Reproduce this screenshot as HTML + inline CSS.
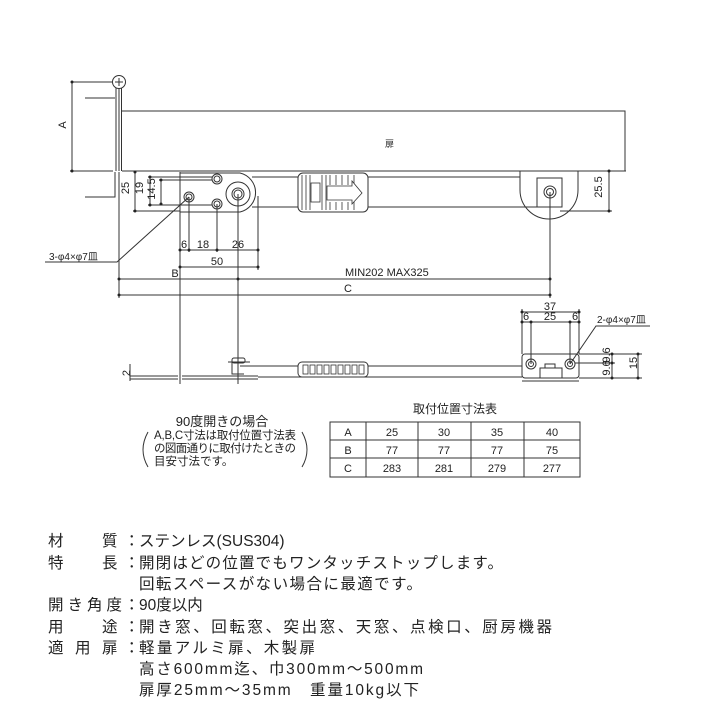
<!DOCTYPE html>
<html><head><meta charset="utf-8"><style>
html,body{margin:0;padding:0;background:#fff}
svg{display:block}
text{font-family:"Liberation Sans","Noto Sans CJK JP",sans-serif;fill:#222}
.n{font-family:"Liberation Sans Narrow","Liberation Sans",sans-serif;font-size:11px}
</style></head><body>
<svg width="720" height="720" viewBox="0 0 720 720" xmlns="http://www.w3.org/2000/svg">
<g stroke="#333" stroke-width="1" fill="none">
<circle cx="119" cy="82" r="6.5"/>
<line x1="115" y1="82" x2="123" y2="82"/><line x1="119" y1="78" x2="119" y2="86"/>
<line x1="116" y1="88" x2="116" y2="171"/><line x1="119" y1="88" x2="119" y2="171"/><line x1="121.5" y1="88" x2="121.5" y2="171"/>
<polyline points="122,111 625,111 625,171 122,171"/>
<line x1="72" y1="82" x2="113" y2="82"/><line x1="72" y1="82" x2="72" y2="171"/><line x1="70" y1="171" x2="113" y2="171"/>
<line x1="85" y1="98" x2="115" y2="98"/>
<polyline points="85,197 115,197 115,172"/>
<line x1="119" y1="172" x2="119" y2="298"/>
<path d="M180,173 H240 A20,20 0 0 1 240,212 H180"/>
<line x1="180" y1="172" x2="180" y2="384"/>
<line x1="258" y1="196" x2="258" y2="270"/>
<circle cx="238" cy="194" r="12"/><circle cx="238" cy="194" r="6"/><circle cx="238" cy="194" r="4"/>
<line x1="238" y1="194" x2="238" y2="384"/>
<circle cx="189" cy="197" r="5"/><circle cx="189" cy="197" r="3"/>
<circle cx="217" cy="179" r="5"/><circle cx="217" cy="179" r="3"/>
<circle cx="217" cy="204" r="5"/><circle cx="217" cy="204" r="3"/>
<line x1="189" y1="197" x2="189" y2="252"/><line x1="217" y1="204" x2="217" y2="252"/>
<line x1="252" y1="177" x2="520" y2="177"/><line x1="252" y1="207" x2="540" y2="207"/>
<rect x="298" y="173" width="70" height="39" rx="5" fill="#fff"/>
<g stroke-width="0.8">
<line x1="302" y1="175" x2="302" y2="210"/><line x1="306" y1="175" x2="306" y2="210"/><line x1="310" y1="175" x2="310" y2="210"/>
<line x1="322" y1="175" x2="322" y2="210"/><line x1="326" y1="175" x2="326" y2="210"/><line x1="330" y1="175" x2="330" y2="185"/><line x1="336" y1="175" x2="336" y2="185"/><line x1="342" y1="175" x2="342" y2="185"/><line x1="348" y1="175" x2="348" y2="185"/><line x1="354" y1="175" x2="354" y2="185"/>
<line x1="330" y1="202" x2="330" y2="210"/><line x1="336" y1="202" x2="336" y2="210"/><line x1="342" y1="202" x2="342" y2="210"/><line x1="348" y1="202" x2="348" y2="210"/><line x1="354" y1="202" x2="354" y2="210"/>
<rect x="311" y="183" width="9" height="19"/>
<path d="M327,186 H352 V181 L362,193 L352,204 V200 H327 Z" fill="#fff"/>
</g>
<path d="M520,171 V190 A21,21 0 0 0 578,190 V171"/>
<rect x="537" y="178" width="25" height="29"/>
<circle cx="550" cy="192" r="6"/><circle cx="550" cy="192" r="3.5"/>
<line x1="550" y1="192" x2="550" y2="298"/>
<line x1="626" y1="171" x2="612" y2="171"/><line x1="609" y1="171" x2="609" y2="211"/><line x1="560" y1="211" x2="612" y2="211"/>
<line x1="135" y1="172" x2="135" y2="211"/><line x1="133" y1="211" x2="180" y2="211"/>
<line x1="150" y1="177" x2="150" y2="205"/><line x1="148" y1="177" x2="212" y2="177"/><line x1="148" y1="205" x2="212" y2="205"/>
<line x1="161" y1="180" x2="161" y2="204"/><line x1="159" y1="180" x2="212" y2="180"/>
<line x1="180" y1="250" x2="258" y2="250"/>
<line x1="180" y1="267" x2="258" y2="267"/>
<line x1="119" y1="279" x2="550" y2="279"/>
<line x1="119" y1="295" x2="550" y2="295"/>
<polyline points="45,262 117,262 189,197"/>
<line x1="130" y1="376" x2="178" y2="376"/><line x1="130" y1="379" x2="178" y2="379"/>
<line x1="182" y1="376" x2="258" y2="376"/><line x1="182" y1="379" x2="258" y2="379"/>
<line x1="130" y1="364" x2="130" y2="381"/>
<line x1="240" y1="366" x2="522" y2="366"/><line x1="258" y1="377" x2="522" y2="377"/>
<path d="M228,362 H250 M232,362 V374 H244"/>
<rect x="232" y="358" width="13" height="5" rx="2"/>
<rect x="298" y="362" width="70" height="15" rx="4" fill="#fff"/>
<g stroke-width="0.8">
<rect x="303" y="365" width="5" height="9"/><rect x="310" y="365" width="5" height="9"/><rect x="317" y="365" width="5" height="9"/><rect x="324" y="365" width="5" height="9"/><rect x="331" y="365" width="5" height="9"/><rect x="338" y="365" width="5" height="9"/><rect x="345" y="365" width="5" height="9"/><rect x="352" y="365" width="5" height="9"/><rect x="359" y="365" width="5" height="9"/>
</g>
<rect x="522" y="354" width="57" height="24" rx="3"/>
<line x1="522" y1="381" x2="579" y2="381"/>
<rect x="540" y="368" width="22" height="10"/><rect x="545" y="364" width="10" height="4"/>
<circle cx="531" cy="364" r="5"/><circle cx="531" cy="364" r="2.5"/>
<circle cx="570" cy="364" r="5"/><circle cx="570" cy="364" r="2.5"/>
<line x1="522" y1="309" x2="522" y2="354"/><line x1="579" y1="309" x2="579" y2="354"/>
<line x1="531" y1="322" x2="531" y2="364"/><line x1="570" y1="322" x2="570" y2="364"/>
<line x1="522" y1="312" x2="579" y2="312"/><line x1="522" y1="322" x2="579" y2="322"/>
<polyline points="650,326 596,326 570,364"/>
<line x1="579" y1="354" x2="642" y2="354"/><line x1="575" y1="363" x2="615" y2="363"/><line x1="579" y1="378" x2="642" y2="378"/>
<line x1="612" y1="354" x2="612" y2="378"/><line x1="638" y1="354" x2="638" y2="378"/>
<path d="M148,432 Q138,450 148,467"/><path d="M302,432 Q312,450 302,467"/>
<rect x="330" y="422" width="250" height="55"/>
<line x1="330" y1="440" x2="580" y2="440"/><line x1="330" y1="458" x2="580" y2="458"/>
<line x1="366" y1="422" x2="366" y2="477"/><line x1="418" y1="422" x2="418" y2="477"/><line x1="471" y1="422" x2="471" y2="477"/><line x1="524" y1="422" x2="524" y2="477"/>
</g>
<g fill="#222">
<circle cx="72" cy="82" r="1.5"/><circle cx="72" cy="171" r="1.5"/><circle cx="135" cy="172" r="1.5"/><circle cx="135" cy="211" r="1.5"/>
<circle cx="150" cy="177" r="1.5"/><circle cx="150" cy="205" r="1.5"/><circle cx="161" cy="180" r="1.5"/><circle cx="161" cy="204" r="1.5"/>
<circle cx="180" cy="250" r="1.5"/><circle cx="189" cy="250" r="1.5"/><circle cx="217" cy="250" r="1.5"/><circle cx="258" cy="250" r="1.5"/>
<circle cx="180" cy="267" r="1.5"/><circle cx="258" cy="267" r="1.5"/><circle cx="119" cy="279" r="1.5"/><circle cx="238" cy="279" r="1.5"/><circle cx="550" cy="279" r="1.5"/>
<circle cx="119" cy="295" r="1.5"/><circle cx="550" cy="295" r="1.5"/><circle cx="609" cy="171" r="1.5"/><circle cx="609" cy="211" r="1.5"/>
<circle cx="522" cy="312" r="1.5"/><circle cx="579" cy="312" r="1.5"/><circle cx="522" cy="322" r="1.5"/><circle cx="531" cy="322" r="1.5"/><circle cx="570" cy="322" r="1.5"/><circle cx="579" cy="322" r="1.5"/>
<circle cx="612" cy="354" r="1.5"/><circle cx="612" cy="363" r="1.5"/><circle cx="612" cy="378" r="1.5"/><circle cx="638" cy="354" r="1.5"/><circle cx="638" cy="378" r="1.5"/>
</g>
<text class="n" x="62" y="129" transform="rotate(-90 62 125)" text-anchor="middle">A</text>
<text x="385" y="147" font-size="9">扉</text>
<text class="n" x="133" y="192" transform="rotate(-90 129 192)" text-anchor="middle" font-size="10">25</text>
<text class="n" x="146" y="191" transform="rotate(-90 143 191)" text-anchor="middle" font-size="10">19</text>
<text class="n" x="158" y="192" transform="rotate(-90 155 192)" text-anchor="middle" font-size="9">14.5</text>
<text class="n" x="605" y="190" transform="rotate(-90 602 190)" text-anchor="middle" font-size="10">25.5</text>
<text class="n" x="184" y="248" text-anchor="middle" font-size="10">6</text>
<text class="n" x="203" y="248" text-anchor="middle" font-size="10">18</text>
<text class="n" x="238" y="248" text-anchor="middle" font-size="10">26</text>
<text class="n" x="217" y="265" text-anchor="middle" font-size="10">50</text>
<text class="n" x="175" y="277" text-anchor="middle">B</text>
<text class="n" x="345" y="276" font-size="10">MIN202  MAX325</text>
<text class="n" x="348" y="292" text-anchor="middle">C</text>
<text x="49" y="260" font-size="10">3-φ4×φ7皿</text>
<text class="n" x="127" y="376" transform="rotate(-90 127 373)" text-anchor="middle" font-size="9">2</text>
<text class="n" x="550" y="310" text-anchor="middle" font-size="10">37</text>
<text class="n" x="526" y="320" text-anchor="middle" font-size="10">6</text>
<text class="n" x="550" y="320" text-anchor="middle" font-size="10">25</text>
<text class="n" x="575" y="320" text-anchor="middle" font-size="10">6</text>
<text x="597" y="323" font-size="10">2-φ4×φ7皿</text>
<text class="n" x="610" y="361" transform="rotate(-90 607 358)" text-anchor="middle" font-size="7">9.6</text>
<text class="n" x="610" y="374" transform="rotate(-90 607 371)" text-anchor="middle" font-size="8">9.6</text>
<text class="n" x="636" y="370" transform="rotate(-90 633 366)" text-anchor="middle" font-size="10">15</text>
<text x="222" y="426" font-size="13" text-anchor="middle">90度開きの場合</text>
<text x="154" y="439" font-size="11.5" textLength="142">A,B,C寸法は取付位置寸法表</text>
<text x="154" y="452" font-size="11.5" textLength="142">の図面通りに取付けたときの</text>
<text x="154" y="465" font-size="11.5">目安寸法です。</text>
<text x="455" y="413" font-size="12" text-anchor="middle">取付位置寸法表</text>
<g text-anchor="middle">
<text class="n" x="348" y="436" font-size="12">A</text><text class="n" x="392" y="436" font-size="12">25</text><text class="n" x="444" y="436" font-size="12">30</text><text class="n" x="497" y="436" font-size="12">35</text><text class="n" x="552" y="436" font-size="12">40</text>
<text class="n" x="348" y="454" font-size="12">B</text><text class="n" x="392" y="454" font-size="12">77</text><text class="n" x="444" y="454" font-size="12">77</text><text class="n" x="497" y="454" font-size="12">77</text><text class="n" x="552" y="454" font-size="12">75</text>
<text class="n" x="348" y="472" font-size="12">C</text><text class="n" x="392" y="472" font-size="12">283</text><text class="n" x="444" y="472" font-size="12">281</text><text class="n" x="497" y="472" font-size="12">279</text><text class="n" x="552" y="472" font-size="12">277</text>
</g>
<g font-size="15.5">
<text x="48" y="546">材</text><text x="102" y="546">質</text><text x="124" y="546">：</text>
<text x="139" y="546">ステンレス(SUS304)</text>
<text x="48" y="568">特</text><text x="102" y="568">長</text><text x="124" y="568">：</text>
<text x="139" y="568" textLength="364">開閉はどの位置でもワンタッチストップします。</text>
<text x="139" y="589" textLength="283">回転スペースがない場合に最適です。</text>
<text x="48" y="610" textLength="74">開き角度</text><text x="124" y="610">：</text>
<text x="139" y="610">90度以内</text>
<text x="48" y="632">用</text><text x="102" y="632">途</text><text x="124" y="632">：</text>
<text x="139" y="632" textLength="413">開き窓、回転窓、突出窓、天窓、点検口、厨房機器</text>
<text x="48" y="653">適</text><text x="75" y="653">用</text><text x="102" y="653">扉</text><text x="124" y="653">：</text>
<text x="139" y="653" textLength="176">軽量アルミ扉、木製扉</text>
<text x="139" y="674" textLength="284">高さ600mm迄、巾300mm～500mm</text>
<text x="139" y="695" textLength="280">扉厚25mm～35mm　重量10kg以下</text>
</g>
</svg>
</body></html>
